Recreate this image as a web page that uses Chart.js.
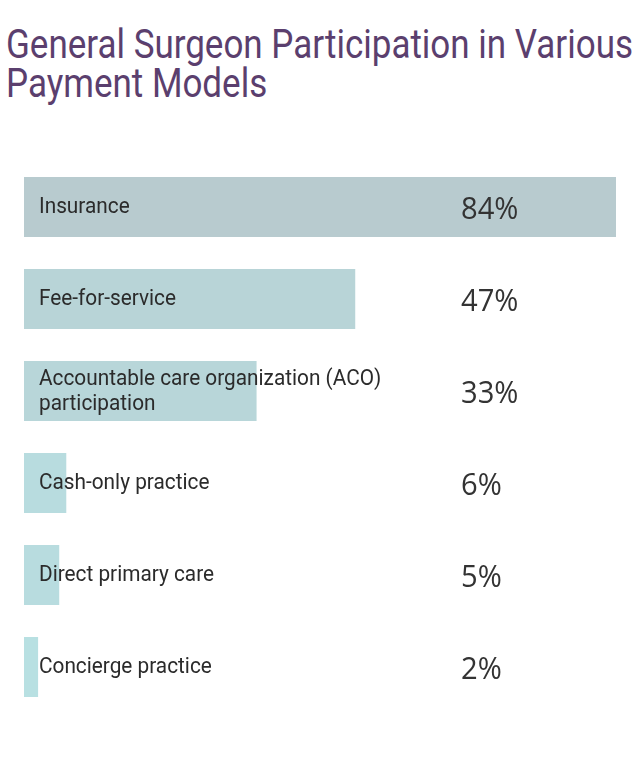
<!DOCTYPE html>
<html>
<head>
<meta charset="utf-8">
<script src="https://cdn.jsdelivr.net/npm/chart.js@4.4.0/dist/chart.umd.min.js"></script>
<style>
  html, body { margin: 0; padding: 0; background: #fff; }
  #wrap { position: relative; width: 640px; height: 757px; overflow: hidden; }
  #title {
    position: absolute; left: 6px; top: 25px; margin: 0;
    font-family: Roboto, sans-serif; font-weight: 400; font-size: 40px;
    line-height: 39px; color: #5b3f6e; transform-origin: left top;
    white-space: nowrap;
  }
  #title span { display: block; }
  #chart { position: absolute; left: 0; top: 0; }
</style>
</head>
<body>
<div id="wrap">
  <h1 id="title"><span id="t1">General Surgeon Participation in Various</span><span>Payment Models</span></h1>
  <canvas id="chart" width="640" height="757"></canvas>
</div>
<script>
const categories = [
  'Insurance',
  'Fee-for-service',
  ['Accountable care organization (ACO)', 'participation'],
  'Cash-only practice',
  'Direct primary care',
  'Concierge practice'
];
const shares = [84, 47, 33, 6, 5, 2];
const barColors = ['#b8cbcf', '#b8d4d7', '#b8d6d9', '#b8dcdf', '#b8dcdf', '#b8e0e2'];

// squeeze the title to mimic the condensed face
const t1 = document.getElementById('t1');
const titleScale = 627 / t1.getBoundingClientRect().width;
document.getElementById('title').style.transform = `scaleX(${titleScale})`;

const labelPlugin = {
  id: 'barLabels',
  afterDatasetsDraw(chart) {
    const ctx = chart.ctx;
    const meta = chart.getDatasetMeta(0);
    meta.data.forEach((bar, i) => {
      const lines = Array.isArray(categories[i]) ? categories[i] : [categories[i]];
      const top = bar.y - bar.height / 2;
      ctx.save();
      ctx.fillStyle = '#2b2b2b';
      ctx.font = '400 22px Roboto';
      ctx.textBaseline = 'alphabetic';
      lines.forEach((ln, j) => {
        const y = top + 36 + (j - (lines.length - 1) / 2) * 25;
        ctx.save();
        ctx.translate(39, y);
        ctx.scale(0.945, 1);
        ctx.fillText(ln, 0, 0);
        ctx.restore();
      });
      ctx.font = '400 31px "Open Sans"';
      ctx.fillStyle = '#333333';
      ctx.save();
      ctx.translate(461, bar.y + 12);
      ctx.scale(0.94, 1);
      ctx.fillText(shares[i] + '%', 0, 0);
      ctx.restore();
      ctx.restore();
    });
  }
};

new Chart(document.getElementById('chart'), {
  type: 'bar',
  data: {
    labels: categories,
    datasets: [{
      data: shares,
      backgroundColor: barColors,
      borderWidth: 0,
      categoryPercentage: 1,
      barPercentage: 60 / 92
    }]
  },
  options: {
    indexAxis: 'y',
    responsive: false,
    devicePixelRatio: 1,
    animation: false,
    layout: { padding: { left: 24, right: 24, top: 161, bottom: 44 } },
    scales: {
      x: { display: false, min: 0, max: 84 },
      y: { display: false }
    },
    plugins: {
      legend: { display: false },
      tooltip: { enabled: false }
    }
  },
  plugins: [labelPlugin]
});
</script>
</body>
</html>
